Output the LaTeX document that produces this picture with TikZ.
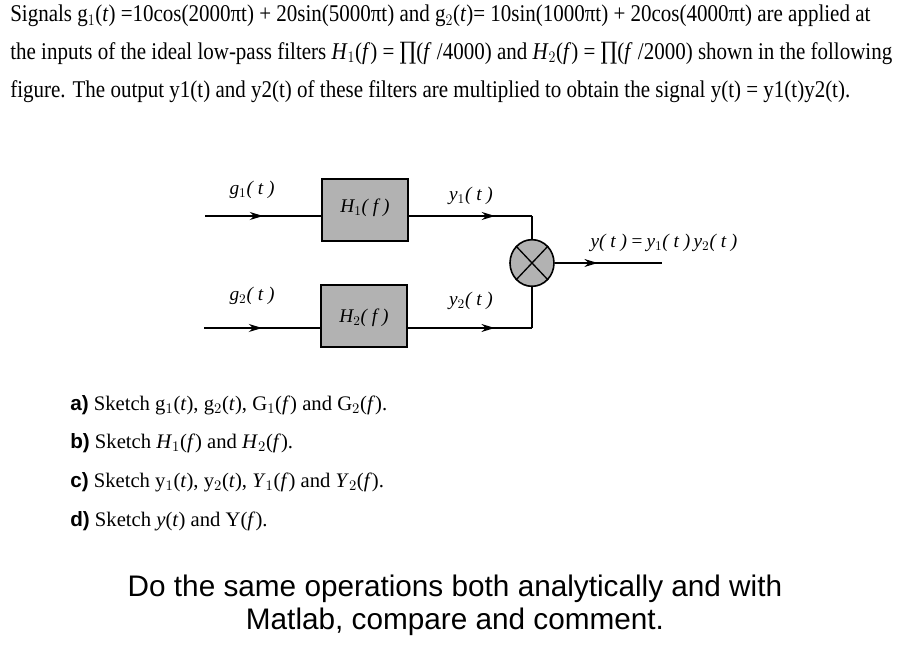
\documentclass[tikz,border=0pt]{standalone}
\usepackage{fontspec}
\setmainfont{Liberation Serif}
\newfontfamily\dvs{DejaVu Serif}
\newfontfamily\lsans{Liberation Sans}
\usetikzlibrary{decorations.markings,arrows.meta,shapes.geometric}
\tikzset{
 blk/.style={draw,line width=1.2pt,fill=gray!60,minimum width=64.5pt,minimum height=46.5pt,inner sep=0},
 wire/.style={line width=0.9pt},
 arr/.style={wire,postaction={decorate},decoration={markings,mark=at position #1 with {\arrow{Stealth[length=10pt,width=6pt]}}}},
 lab/.style={font=\fontsize{14.5}{15}\selectfont\itshape},
 ttl/.style={anchor=west,font=\fontsize{18}{20}\selectfont,inner sep=0},
 q/.style={anchor=west,font=\fontsize{15.5}{17}\selectfont,inner sep=0},
 fin/.style={font=\lsans\fontsize{22.3}{26}\selectfont,inner sep=0}
}
\newcommand{\ti}[1]{\textit{#1}}
\begin{document}
\begin{tikzpicture}[x=0.75pt,y=-0.75pt]
\useasboundingbox (0,0) rectangle (915,655);
\node[ttl] (t1) at (10,16) {\scalebox{0.875}[1]{Signals g$_1$(\ti{t}) =10cos(2000πt) + 20sin(5000πt) and g$_2$(\ti{t})= 10sin(1000πt) + 20cos(4000πt) are applied at}};
\node[ttl] (t2) at (10,53) {\scalebox{0.875}[1]{the inputs of the ideal low-pass filters \ti{H}$_1$(\ti{f}) = {\dvs ∏}(\ti{f} /4000) and \ti{H}$_2$(\ti{f}) = {\dvs ∏}(\ti{f} /2000) shown in the following}};
\node[ttl] (t3) at (10,92) {\scalebox{0.875}[1]{figure. The output y1(t) and y2(t) of these filters are multiplied to obtain the signal y(t) = y1(t)y2(t).}};
\node[blk] (h1) at (365,210) {};
\node[blk] (h2) at (364,316) {};
\node[lab] at (365,208) {H$_1$( f )};
\node[lab] at (364,318) {H$_2$( f )};
\node[draw,line width=1.2pt,fill=gray!60,ellipse,minimum width=33pt,minimum height=35pt,inner sep=0] (m) at (532,263) {};
\draw[line width=1pt] (m.north west) -- (m.south east) (m.north east) -- (m.south west);
\coordinate (i1) at (205,216); \coordinate (i2) at (204,328);
\coordinate (c1) at (532,216); \coordinate (c2) at (532,328);
\coordinate (o) at (662,263);
\draw[arr=0.5] (i1) -- (i1-|h1.west);
\draw[arr=0.5] (i2) -- (i2-|h2.west);
\draw[arr=0.7] (i1-|h1.east) -- (c1);
\draw[wire] (c1) -- (m.north);
\draw[arr=0.7] (i2-|h2.east) -- (c2);
\draw[wire] (c2) -- (m.south);
\draw[arr=0.4] (m.east) -- (o);
\node[lab] at (252,190) {g$_1$( t )};
\node[lab] at (252,296) {g$_2$( t )};
\node[lab] at (471,196) {y$_1$( t )};
\node[lab] at (471,301) {y$_2$( t )};
\node[lab] at (664,243) {y( t )\,=\,y$_1$( t )\,y$_2$( t )};
\node[q] (a) at (70,405) {\textbf{\lsans a)} Sketch g$_1$(\ti{t}), g$_2$(\ti{t}), G$_1$(\ti{f}) and G$_2$(\ti{f}).};
\node[q] (b) at (70,443) {\textbf{\lsans b)} Sketch \ti{H}$_1$(\ti{f}) and \ti{H}$_2$(\ti{f}).};
\node[q] (c) at (70,482) {\textbf{\lsans c)} Sketch y$_1$(\ti{t}), y$_2$(\ti{t}), \ti{Y}$_1$(\ti{f}) and \ti{Y}$_2$(\ti{f}).};
\node[q] (d) at (70,521) {\textbf{\lsans d)} Sketch \ti{y}(\ti{t}) and Y(\ti{f}).};
\node[fin] (f1) at (455,589) {Do the same operations both analytically and with};
\node[fin] (f2) at (455,622) {Matlab, compare and comment.};
\end{tikzpicture}
\end{document}
